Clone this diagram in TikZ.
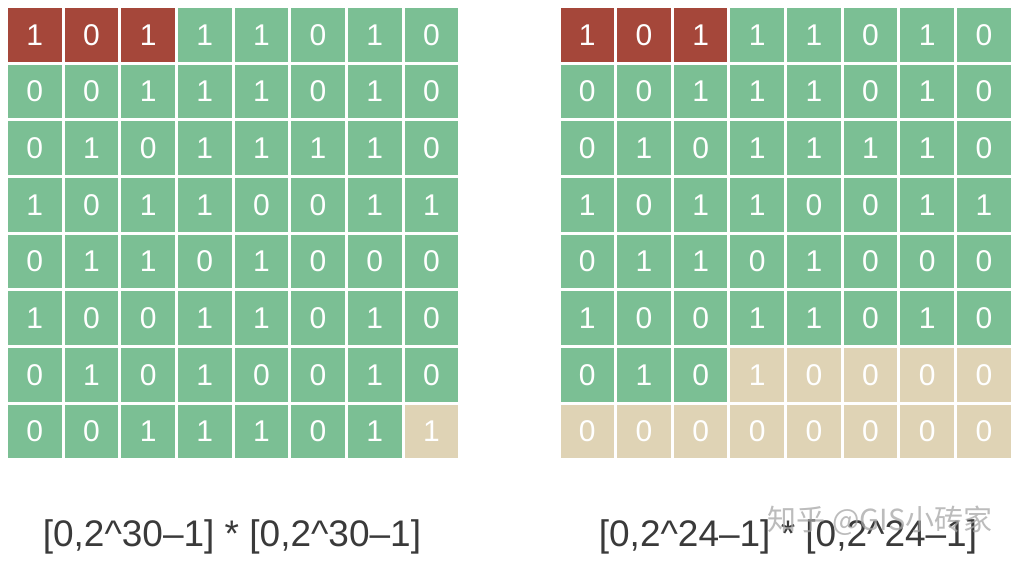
\documentclass[tikz,border=0pt]{standalone}
\usepackage{fontspec}
\setmainfont{Liberation Sans}
\newfontfamily\cjkfont{Noto Sans CJK SC}
\definecolor{cr}{HTML}{A5473A}
\definecolor{cg}{HTML}{7BBF94}
\definecolor{ct}{HTML}{DFD3B5}
\definecolor{captext}{HTML}{3A3A3A}
\begin{document}
\begin{tikzpicture}[x=1pt,y=-1pt,
  cell/.style={minimum width=53.6pt, minimum height=53.6pt, inner sep=0pt, outer sep=0pt,
    text=white, font=\fontsize{30}{30}\selectfont, anchor=north west},
  caption/.style={text=captext, font=\fontsize{37}{37}\selectfont, inner sep=0pt},
  watermark/.style={text=black!35, opacity=0.75, font=\cjkfont\fontsize{29}{29}\selectfont, inner sep=0pt}]
\useasboundingbox (0,0) rectangle (1022,568);
\fill[white] (0,0) rectangle (1022,568);
% left grid
\foreach \row [count=\r from 0] in {
  {r/1,r/0,r/1,g/1,g/1,g/0,g/1,g/0},
  {g/0,g/0,g/1,g/1,g/1,g/0,g/1,g/0},
  {g/0,g/1,g/0,g/1,g/1,g/1,g/1,g/0},
  {g/1,g/0,g/1,g/1,g/0,g/0,g/1,g/1},
  {g/0,g/1,g/1,g/0,g/1,g/0,g/0,g/0},
  {g/1,g/0,g/0,g/1,g/1,g/0,g/1,g/0},
  {g/0,g/1,g/0,g/1,g/0,g/0,g/1,g/0},
  {g/0,g/0,g/1,g/1,g/1,g/0,g/1,t/1}} {
  \foreach \k/\v [count=\c from 0] in \row {
    \node[cell, fill=c\k] (L-\r-\c) at ({8+\c*56.65},{8+\r*56.65}) {\v};
  }
}
% right grid
\foreach \row [count=\r from 0] in {
  {r/1,r/0,r/1,g/1,g/1,g/0,g/1,g/0},
  {g/0,g/0,g/1,g/1,g/1,g/0,g/1,g/0},
  {g/0,g/1,g/0,g/1,g/1,g/1,g/1,g/0},
  {g/1,g/0,g/1,g/1,g/0,g/0,g/1,g/1},
  {g/0,g/1,g/1,g/0,g/1,g/0,g/0,g/0},
  {g/1,g/0,g/0,g/1,g/1,g/0,g/1,g/0},
  {g/0,g/1,g/0,t/1,t/0,t/0,t/0,t/0},
  {t/0,t/0,t/0,t/0,t/0,t/0,t/0,t/0}} {
  \foreach \k/\v [count=\c from 0] in \row {
    \node[cell, fill=c\k] (R-\r-\c) at ({560.5+\c*56.65},{8+\r*56.65}) {\v};
  }
}
\node[caption] (capL) at (232,537) {[0,2\^{}30–1] * [0,2\^{}30–1]};
\node[caption] (capR) at (788,537) {[0,2\^{}24–1] * [0,2\^{}24–1]};
\node[watermark] (wm) at (880,521) {知乎 @GIS小砖家};
\end{tikzpicture}
\end{document}
